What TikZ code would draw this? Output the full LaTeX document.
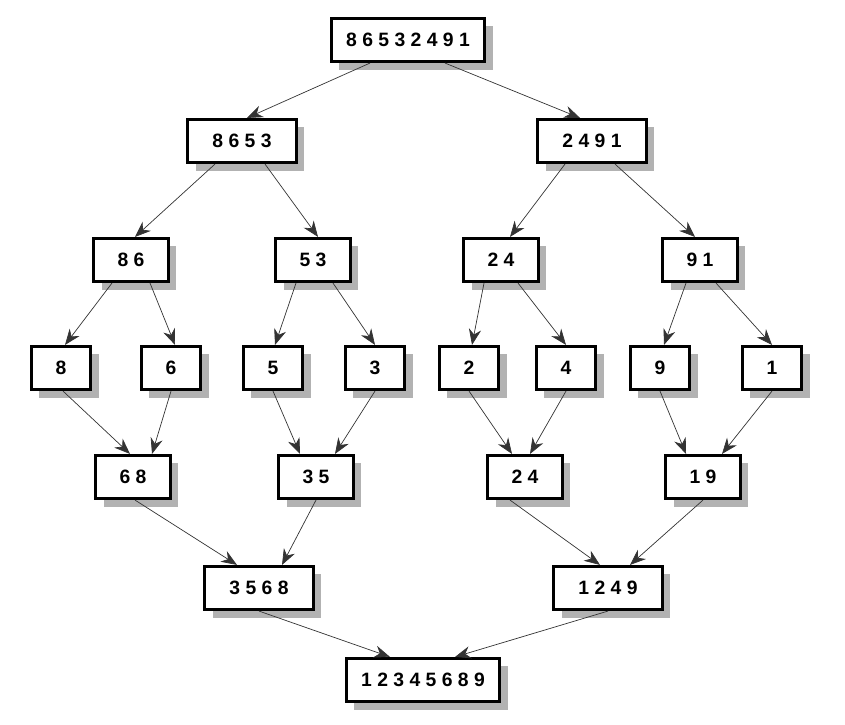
\documentclass[tikz,border=0pt]{standalone}
\usepackage{fontspec}
\setmainfont{Liberation Sans}
\usepackage{tikz}
\usetikzlibrary{arrows.meta,shadows}

\begin{document}
\begin{tikzpicture}[>={Stealth[length=9pt,width=7pt]},
    link/.style={->,draw=black!80},
    main node/.style={rectangle,draw,line width=1.5pt,fill=white,minimum height=0.87cm,
      font=\bfseries\fontsize{11}{13}\selectfont,
      drop shadow={shadow xshift=0.16cm,shadow yshift=-0.16cm,fill=black!30,opacity=1}},
    wide node/.style={main node,minimum width=3.07cm},
    mid node/.style={main node,minimum width=2.17cm},
    pair node/.style={main node,minimum width=1.49cm},
    leaf node/.style={main node,minimum width=1.19cm}]
    \useasboundingbox (0,0) rectangle (16.9,14.48);
    % split
    \node[wide node] (a) at (8.16,13.68) {8 6 5 3 2 4 9 1};
    \node[mid node] (b1) at (4.84,11.66) {8 6 5 3};
    \node[mid node] (b2) at (11.84,11.66) {2 4 9 1};
    \node[pair node] (c1) at (2.62,9.28) {8 6};
    \node[pair node] (c2) at (6.26,9.28) {5 3};
    \node[pair node] (c3) at (10.02,9.28) {2 4};
    \node[pair node] (c4) at (14.0,9.28) {9 1};
    \node[leaf node] (d1) at (1.22,7.12) {8};
    \node[leaf node] (d2) at (3.42,7.12) {6};
    \node[leaf node] (d3) at (5.46,7.12) {5};
    \node[leaf node] (d4) at (7.5,7.12) {3};
    \node[leaf node] (d5) at (9.38,7.12) {2};
    \node[leaf node] (d6) at (11.32,7.12) {4};
    \node[leaf node] (d7) at (13.2,7.12) {9};
    \node[leaf node] (d8) at (15.44,7.12) {1};
    % merge
    \node[pair node] (e1) at (2.66,4.94) {6 8};
    \node[pair node] (e2) at (6.32,4.94) {3 5};
    \node[pair node] (e3) at (10.5,4.94) {2 4};
    \node[pair node] (e4) at (14.06,4.94) {1 9};
    \node[mid node] (f1) at (5.18,2.72) {3 5 6 8};
    \node[mid node] (f2) at (12.16,2.72) {1 2 4 9};
    \node[wide node] (g) at (8.46,0.88) {1 2 3 4 5 6 8 9};

    \draw[link] ([xshift=-0.76cm]a.south) -- ([xshift=0.1cm]b1.north);
    \draw[link] ([xshift=0.74cm]a.south) -- ([xshift=-0.24cm]b2.north);
    \draw[link] ([xshift=-0.54cm]b1.south) -- ([xshift=0.08cm]c1.north);
    \draw[link] ([xshift=0.46cm]b1.south) -- ([xshift=0.1cm]c2.north);
    \draw[link] ([xshift=-0.54cm]b2.south) -- ([xshift=0.18cm]c3.north);
    \draw[link] ([xshift=0.46cm]b2.south) -- ([xshift=-0.1cm]c4.north);
    \draw[link] ([xshift=-0.38cm]c1.south) -- ([xshift=0.08cm]d1.north);
    \draw[link] ([xshift=0.38cm]c1.south) -- ([xshift=0.08cm]d2.north);
    \draw[link] ([xshift=-0.34cm]c2.south) -- ([xshift=0.04cm]d3.north);
    \draw[link] ([xshift=0.4cm]c2.south) -- (d4.north);
    \draw[link] ([xshift=-0.34cm]c3.south) -- ([xshift=0.06cm]d5.north);
    \draw[link] ([xshift=0.34cm]c3.south) -- (d6.north);
    \draw[link] ([xshift=-0.28cm]c4.south) -- ([xshift=0.08cm]d7.north);
    \draw[link] ([xshift=0.32cm]c4.south) -- (d8.north);
    \draw[link] ([xshift=0.04cm]d1.south) -- ([xshift=-0.06cm]e1.north);
    \draw[link] (d2.south) -- ([xshift=0.38cm]e1.north);
    \draw[link] (d3.south) -- ([xshift=-0.32cm]e2.north);
    \draw[link] (d4.south) -- ([xshift=0.38cm]e2.north);
    \draw[link] (d5.south) -- ([xshift=-0.26cm]e3.north);
    \draw[link] (d6.south) -- ([xshift=0.1cm]e3.north);
    \draw[link] (d7.south) -- ([xshift=-0.34cm]e4.north);
    \draw[link] (d8.south) -- ([xshift=0.38cm]e4.north);
    \draw[link] ([xshift=0.04cm]e1.south) -- ([xshift=-0.44cm]f1.north);
    \draw[link] (e2.south) -- ([xshift=0.46cm]f1.north);
    \draw[link] ([xshift=-0.3cm]e3.south) -- ([xshift=-0.16cm]f2.north);
    \draw[link] (e4.south) -- ([xshift=0.44cm]f2.north);
    \draw[link] (f1.south) -- ([xshift=-0.66cm]g.north);
    \draw[link] (f2.south) -- ([xshift=0.64cm]g.north);
\end{tikzpicture}
\end{document}
